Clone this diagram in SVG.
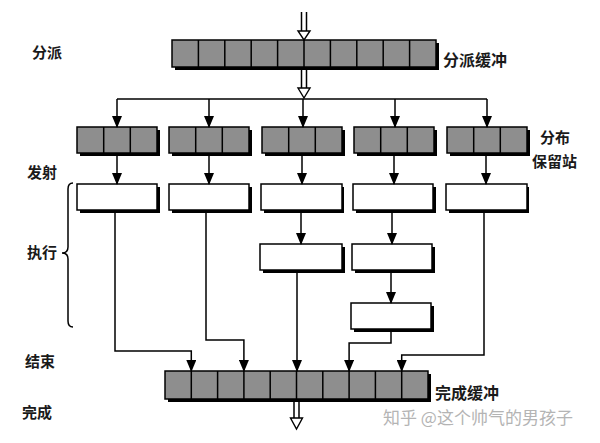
<svg xmlns="http://www.w3.org/2000/svg" width="600" height="443" viewBox="0 0 600 443">
<style>
.lbl{font-family:"Noto Sans CJK SC","Noto Sans",sans-serif;font-weight:bold;font-size:15px;fill:#1a1a1a}
.wm{font-family:"Noto Sans CJK SC","Noto Sans",sans-serif;font-size:17px;fill:#b4b4b4}
.sh{fill:#000}
.cellbox{fill:#8e8e8e;stroke:#000;stroke-width:1.5}
.cell{stroke:#000;stroke-width:1.5}
.ex{fill:#fff;stroke:#000;stroke-width:1.5}
.ln{fill:none;stroke:#000;stroke-width:1.5}
.hol{fill:#fff;stroke:#000;stroke-width:1.4}
</style>
<defs>
<marker id="ah" markerUnits="userSpaceOnUse" markerWidth="10" markerHeight="12" viewBox="0 0 10 12" refX="5" refY="12" orient="auto-start-reverse">
<path d="M0,0 L10,0 L5,12 Z" fill="#000" transform="rotate(0)"/>
</marker>
<marker id="ad" markerUnits="userSpaceOnUse" markerWidth="12" markerHeight="10" viewBox="0 0 12 10" refX="11" refY="5" orient="auto">
<path d="M0,0 L12,5 L0,10 Z" fill="#000"/>
</marker>
</defs>
<rect width="600" height="443" fill="#fff"/>

<g id="labels">
<text class="lbl" x="32" y="58">分派</text>
<text class="lbl" x="27" y="178">发射</text>
<text class="lbl" x="27" y="258">执行</text>
<text class="lbl" x="25" y="367">结束</text>
<text class="lbl" x="22" y="418">完成</text>
<path class="ln" d="M73,183 Q68,183 68,189 L68,247 Q68,253 62,253 Q68,253 68,259 L68,321 Q68,327 73,327"/>
</g>

<g id="dispatch-buffer">
<rect class="sh" x="175" y="43" width="264" height="27"/>
<rect class="cellbox" x="172" y="40" width="264" height="27"/>
<path class="cell" d="M198.4,40V67M224.8,40V67M251.2,40V67M277.6,40V67M304,40V67M330.4,40V67M356.8,40V67M383.2,40V67M409.6,40V67"/>
<text class="lbl" x="443" y="66" style="font-size:16px">分派缓冲</text>
</g>

<g id="rs">
<g id="rs1"><rect class="sh" x="80" y="130" width="80" height="26"/><rect class="cellbox" x="77" y="127" width="80" height="26"/><path class="cell" d="M103.7,127V153M130.3,127V153"/></g>
<g id="rs2"><rect class="sh" x="172" y="130" width="80" height="26"/><rect class="cellbox" x="169" y="127" width="80" height="26"/><path class="cell" d="M195.7,127V153M222.3,127V153"/></g>
<g id="rs3"><rect class="sh" x="265" y="130" width="80" height="26"/><rect class="cellbox" x="262" y="127" width="80" height="26"/><path class="cell" d="M288.7,127V153M315.3,127V153"/></g>
<g id="rs4"><rect class="sh" x="357" y="130" width="80" height="26"/><rect class="cellbox" x="354" y="127" width="80" height="26"/><path class="cell" d="M380.7,127V153M407.3,127V153"/></g>
<g id="rs5"><rect class="sh" x="450" y="130" width="80" height="26"/><rect class="cellbox" x="447" y="127" width="80" height="26"/><path class="cell" d="M473.7,127V153M500.3,127V153"/></g>
<text class="lbl" x="540" y="143">分布</text>
<text class="lbl" x="532" y="167">保留站</text>
</g>

<g id="exec">
<g id="ex1-1"><rect class="sh" x="80" y="187" width="80" height="26"/><rect class="ex" x="77" y="184" width="80" height="26"/></g>
<g id="ex2-1"><rect class="sh" x="172" y="187" width="80" height="26"/><rect class="ex" x="169" y="184" width="80" height="26"/></g>
<g id="ex3-1"><rect class="sh" x="264" y="187" width="80" height="26"/><rect class="ex" x="261" y="184" width="81" height="26"/></g>
<g id="ex4-1"><rect class="sh" x="356" y="187" width="80" height="26"/><rect class="ex" x="353" y="184" width="80" height="26"/></g>
<g id="ex5-1"><rect class="sh" x="449" y="187" width="80" height="26"/><rect class="ex" x="446" y="184" width="81" height="26"/></g>
<g id="ex3-2"><rect class="sh" x="263" y="247" width="82" height="26"/><rect class="ex" x="260" y="244" width="82" height="26"/></g>
<g id="ex4-2"><rect class="sh" x="355" y="247" width="80" height="26"/><rect class="ex" x="352" y="244" width="80" height="26"/></g>
<g id="ex4-3"><rect class="sh" x="354" y="306" width="80" height="26"/><rect class="ex" x="351" y="303" width="80" height="26"/></g>
</g>

<g id="completion-buffer">
<rect class="sh" x="168" y="374" width="263" height="28"/>
<rect class="cellbox" x="165" y="371" width="263" height="28"/>
<path class="cell" d="M191.3,371V399M217.6,371V399M243.9,371V399M270.2,371V399M296.5,371V399M322.8,371V399M349.1,371V399M375.4,371V399M401.7,371V399"/>
<text class="lbl" x="435" y="399" style="font-size:16px">完成缓冲</text>
</g>

<g id="connectors">
<!-- input double arrow -->
<path class="ln" d="M301.5,12V32M306.5,12V32"/>
<path class="hol" d="M298,31 L310,31 L304,40 Z"/>
<!-- dispatch buffer to bus -->
<path class="ln" d="M301.5,70V89M306.5,70V89"/>
<path class="hol" d="M298,88 L310,88 L304,98 Z"/>
<path class="ln" d="M117,99H487"/>
<path class="ln" marker-end="url(#ad)" d="M117,99V127"/>
<path class="ln" marker-end="url(#ad)" d="M209,99V127"/>
<path class="ln" marker-end="url(#ad)" d="M303,99V127"/>
<path class="ln" marker-end="url(#ad)" d="M395,99V127"/>
<path class="ln" marker-end="url(#ad)" d="M487,99V127"/>
<!-- rs to exec -->
<path class="ln" marker-end="url(#ad)" d="M117,156V184"/>
<path class="ln" marker-end="url(#ad)" d="M209,156V184"/>
<path class="ln" marker-end="url(#ad)" d="M302,156V184"/>
<path class="ln" marker-end="url(#ad)" d="M394,156V184"/>
<path class="ln" marker-end="url(#ad)" d="M486,156V184"/>
<!-- exec pipelines -->
<path class="ln" marker-end="url(#ad)" d="M301,213V244"/>
<path class="ln" marker-end="url(#ad)" d="M392,213V244"/>
<path class="ln" marker-end="url(#ad)" d="M391,273V303"/>
<!-- to completion buffer -->
<path class="ln" marker-end="url(#ad)" d="M115,213V351H191.3V371"/>
<path class="ln" marker-end="url(#ad)" d="M206,213V340H243.9V371"/>
<path class="ln" marker-end="url(#ad)" d="M297,273V371"/>
<path class="ln" marker-end="url(#ad)" d="M391,332V343H349.1V371"/>
<path class="ln" marker-end="url(#ad)" d="M484,213V355H401.7V371"/>
<!-- output double arrow -->
<path class="ln" d="M294,402V419M299,402V419"/>
<path class="hol" d="M290.5,418 L302.5,418 L296.5,429 Z"/>
</g>

<text class="wm" x="383" y="424">知乎 @这个帅气的男孩子</text>
</svg>
